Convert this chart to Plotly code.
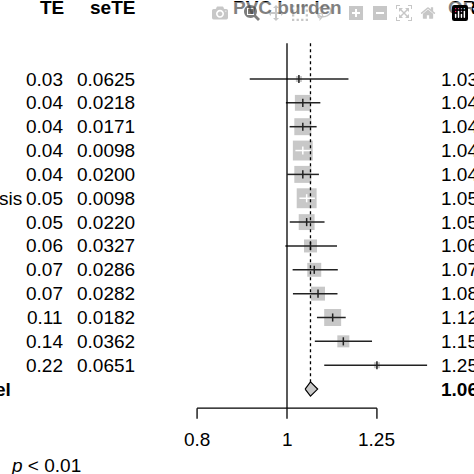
import math
import plotly.graph_objects as go

# study rows (names are cropped off in the reference)
te = [0.03, 0.04, 0.04, 0.04, 0.04, 0.05, 0.05, 0.06, 0.07, 0.07, 0.11, 0.14, 0.22]
se_te = [0.0625, 0.0218, 0.0171, 0.0098, 0.0200, 0.0098, 0.0220,
         0.0327, 0.0286, 0.0282, 0.0182, 0.0362, 0.0651]
or_est = [1.03, 1.04, 1.04, 1.04, 1.04, 1.05, 1.05, 1.06, 1.07, 1.08, 1.12, 1.15, 1.25]
weights = [1.0, 7.0, 8.0, 11.0, 8.0, 11.0, 7.0, 4.7, 5.4, 5.4, 8.0, 4.0, 1.0]
name_frag = ['', '', '', '', '', 'sis', '', '', '', '', '', '', '']
pooled_or = 1.06
pooled_lo, pooled_hi = 1.046, 1.079
x_ticks = [0.8, 1, 1.25]
x_tick_labels = ['0.8', '1', '1.25']

FONT = 'Liberation Sans, Arial, sans-serif'
W = 474
PX_PER_DEC = 928  # pixels per log10 unit
ROW0 = 79
ROW_H = 23.85
diamond_row = len(te)

fig = go.Figure()

# reference lines
fig.add_shape(type='line', x0=1, x1=1, y0=-1.5, y1=13.8,
              line=dict(color='black', width=1.3))
fig.add_shape(type='line', x0=pooled_or, x1=pooled_or, y0=-1.5, y1=12.8,
              line=dict(color='black', width=1.3, dash='dot'))

for i, (t, s, o, w) in enumerate(zip(te, se_te, or_est, weights)):
    lo, hi = math.exp(t - 1.96 * s), math.exp(t + 1.96 * s)
    size = 6 * math.sqrt(w)
    fig.add_trace(go.Scatter(x=[o], y=[i], mode='markers', hoverinfo='skip',
                             marker=dict(symbol='square', size=size, color='#c8c8c8',
                                         line=dict(width=0))))
    # CI width in pixels vs box size
    inside = (math.log10(hi) - math.log10(lo)) * PX_PER_DEC < size
    col = 'white' if inside else '#222'
    fig.add_trace(go.Scatter(x=[lo, hi], y=[i, i], mode='lines', hoverinfo='skip',
                             line=dict(color=col, width=1.5)))
    fig.add_trace(go.Scatter(x=[o, o], y=[i - 0.17, i + 0.17], mode='lines',
                             hoverinfo='skip', line=dict(color=col, width=1.5)))

# pooled diamond
fig.add_trace(go.Scatter(x=[pooled_lo, pooled_or, pooled_hi, pooled_or, pooled_lo],
                         y=[diamond_row, diamond_row - 0.3, diamond_row, diamond_row + 0.3, diamond_row],
                         mode='lines', fill='toself', fillcolor='#c8c8c8',
                         line=dict(color='black', width=1.2), hoverinfo='skip'))

# x axis drawn like the R meta plot
fig.add_shape(type='line', x0=x_ticks[0], x1=x_ticks[-1], y0=13.8, y1=13.8,
              line=dict(color='black', width=1.3))
for xt, lab in zip(x_ticks, x_tick_labels):
    fig.add_shape(type='line', x0=xt, x1=xt, y0=13.8, y1=14.25,
                  line=dict(color='black', width=1.3))
    # annotations on log axes take log10 positions
    fig.add_annotation(x=math.log10(xt), y=15.1, text=lab, showarrow=False, xref='x', yref='y',
                       font=dict(size=19, color='black', family=FONT))

ann = dict(showarrow=False, xref='paper', yref='y', font=dict(size=19, color='black', family=FONT))
for i in range(len(te)):
    fig.add_annotation(x=65 / W, y=i, text=f'{te[i]:.2f}', xanchor='right', **ann)
    fig.add_annotation(x=137 / W, y=i, text=f'{se_te[i]:.4f}', xanchor='right', **ann)
    fig.add_annotation(x=439 / W, y=i, text=f'{or_est[i]:.2f}', xanchor='left', **ann)
    if name_frag[i]:
        fig.add_annotation(x=24 / W, y=i, text=name_frag[i], xanchor='right', **ann)

fig.add_annotation(x=439 / W, y=diamond_row, text=f'<b>{pooled_or:.2f}</b>', xanchor='left', **ann)
fig.add_annotation(x=13 / W, y=diamond_row, text='<b>el</b>', xanchor='right', **ann)
fig.add_annotation(x=66 / W, y=-2.98, text='<b>TE</b>', xanchor='right', **ann)
fig.add_annotation(x=137 / W, y=-2.98, text='<b>seTE</b>', xanchor='right', **ann)
fig.add_annotation(x=287 / W, y=-2.98, text='<b>PVC burden</b>', xanchor='center', **ann)
fig.add_annotation(x=446 / W, y=-2.98, text='<b>OR</b>', xanchor='left', **ann)
fig.add_annotation(x=9 / W, y=16.2, text='<i>p</i> < 0.01', xanchor='left', **ann)

fig.update_layout(
    width=W, height=474, showlegend=False,
    margin=dict(l=0, r=0, t=0, b=0),
    paper_bgcolor='white', plot_bgcolor='white',
    xaxis=dict(type='log', range=[-287 / PX_PER_DEC, (W - 287) / PX_PER_DEC], visible=False),
    yaxis=dict(range=[(474 - ROW0) / ROW_H, -ROW0 / ROW_H], visible=False),
)
fig.write_html('out.html',
               post_script="document.body.style.margin='0';document.body.style.overflow='hidden';")
